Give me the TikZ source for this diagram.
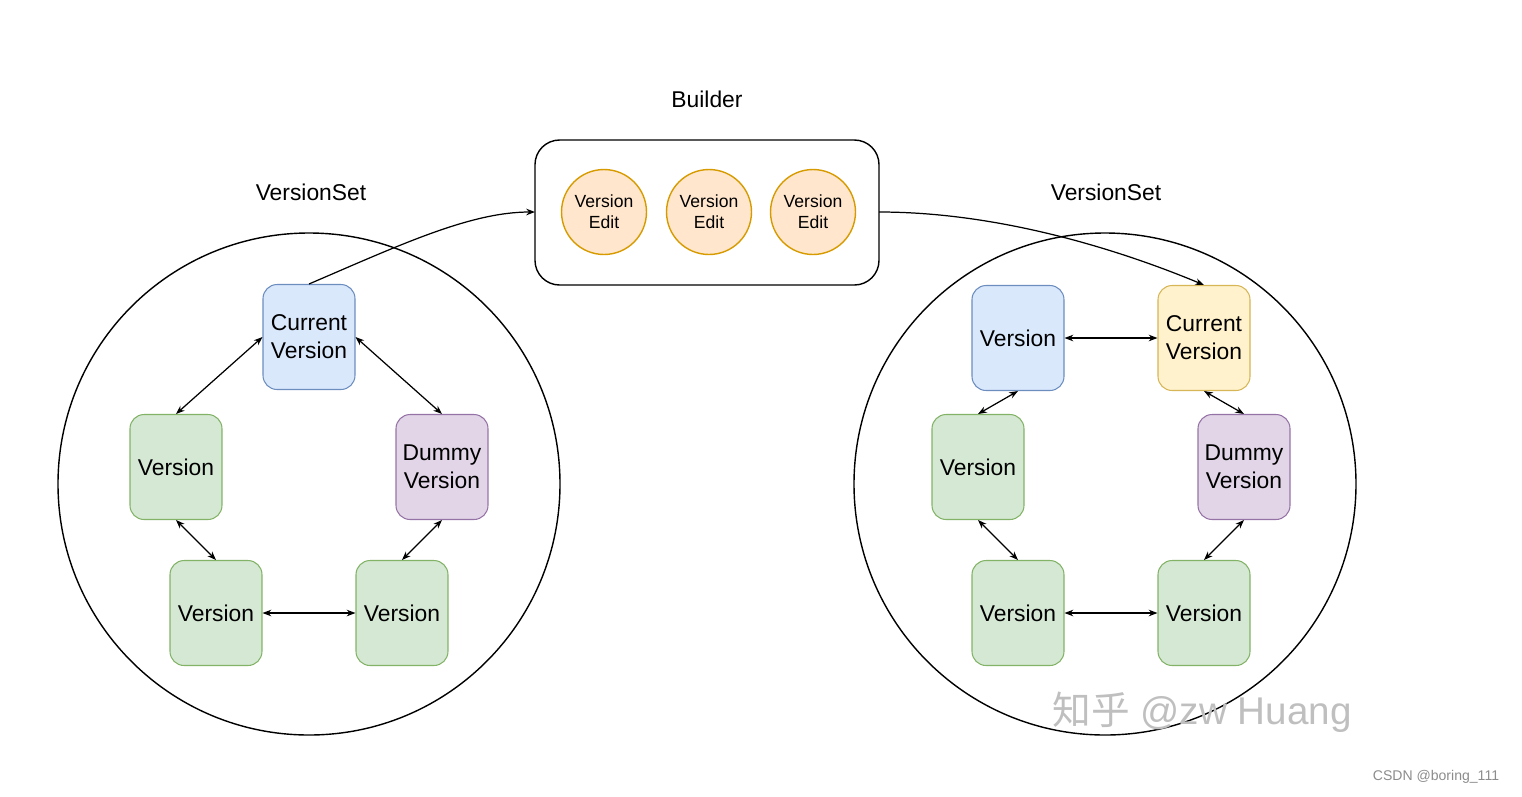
\documentclass[tikz,border=0pt]{standalone}
\usepackage{fontspec}
\setmainfont{Liberation Sans}
\newfontfamily\cjk{Noto Sans CJK SC}
\usetikzlibrary{arrows.meta}
\definecolor{bfill}{HTML}{DAE8FC}\definecolor{bdraw}{HTML}{6C8EBF}
\definecolor{gfill}{HTML}{D5E8D4}\definecolor{gdraw}{HTML}{82B366}
\definecolor{pfill}{HTML}{E1D5E7}\definecolor{pdraw}{HTML}{9673A6}
\definecolor{yfill}{HTML}{FFF2CC}\definecolor{ydraw}{HTML}{D6B656}
\definecolor{ofill}{HTML}{FFE6CC}\definecolor{odraw}{HTML}{D79B00}

\begin{document}
\begin{tikzpicture}[x=0.02cm,y=-0.02cm,thick]
  \tikzset{ver/.style={rectangle,rounded corners=8pt,minimum width=1.84cm,minimum height=2.1cm,
      align=center,font=\fontsize{13}{16}\selectfont,line width=0.6pt},
    edit/.style={circle,minimum size=1.7cm,inner sep=0pt,align=center,fill=ofill,draw=odraw,
      font=\fontsize{10}{12}\selectfont,line width=0.8pt},
    lbl/.style={font=\fontsize{13}{15}\selectfont},
    link/.style={{Stealth[length=5pt]}-{Stealth[length=5pt]},line width=0.7pt},
    feed/.style={-{Stealth[length=5pt]},line width=0.7pt}}
  \useasboundingbox (0,0) rectangle (1522,796);

  % builder
  \node[lbl] (bl) at (707,99) {Builder};
  \draw[rounded corners=14pt,line width=0.8pt] (535,140) rectangle (879,285);
  \coordinate (bin) at (535,212);
  \coordinate (bout) at (879,212);
  \node[edit] (e1) at (604,212) {Version\\Edit};
  \node[edit] (e2) at (709,212) {Version\\Edit};
  \node[edit] (e3) at (813,212) {Version\\Edit};

  % left version set
  \node[lbl] (ls) at (311,192) {VersionSet};
  \draw[line width=0.8pt] (309,484) circle (251);
  \node[ver,fill=bfill,draw=bdraw] (l1) at (309,337) {Current\\Version};
  \node[ver,fill=gfill,draw=gdraw] (l2) at (176,467) {Version};
  \node[ver,fill=pfill,draw=pdraw] (l3) at (442,467) {Dummy\\Version};
  \node[ver,fill=gfill,draw=gdraw] (l4) at (216,613) {Version};
  \node[ver,fill=gfill,draw=gdraw] (l5) at (402,613) {Version};
  \draw[link] (l1.west) -- (l2.north);
  \draw[link] (l1.east) -- (l3.north);
  \draw[link] (l2.south) -- (l4.north);
  \draw[link] (l3.south) -- (l5.north);
  \draw[link] (l4) -- (l5);

  % right version set
  \node[lbl] (rs) at (1106,192) {VersionSet};
  \draw[line width=0.8pt] (1105,484) circle (251);
  \node[ver,fill=bfill,draw=bdraw] (r1) at (1018,338) {Version};
  \node[ver,fill=yfill,draw=ydraw] (r2) at (1204,338) {Current\\Version};
  \node[ver,fill=gfill,draw=gdraw] (r3) at (978,467) {Version};
  \node[ver,fill=pfill,draw=pdraw] (r4) at (1244,467) {Dummy\\Version};
  \node[ver,fill=gfill,draw=gdraw] (r5) at (1018,613) {Version};
  \node[ver,fill=gfill,draw=gdraw] (r6) at (1204,613) {Version};
  \draw[link] (r1) -- (r2);
  \draw[link] (r1.south) -- (r3.north);
  \draw[link] (r2.south) -- (r4.north);
  \draw[link] (r3.south) -- (r5.north);
  \draw[link] (r4.south) -- (r6.north);
  \draw[link] (r5) -- (r6);

  % through the builder
  \draw[feed] (l1.north) .. controls (400,245) and (470,212) .. (bin);
  \draw[feed] (bout) .. controls (1000,212) and (1120,250) .. (r2.north);

  % watermarks
  \node[text=black!25,font=\fontsize{22}{24}\selectfont] (wm) at (1202,712) {{\cjk 知乎} @zw Huang};
  \node[text=black!45,font=\fontsize{8}{10}\selectfont] (cs) at (1436,777) {CSDN @boring\_111};
\end{tikzpicture}
\end{document}
